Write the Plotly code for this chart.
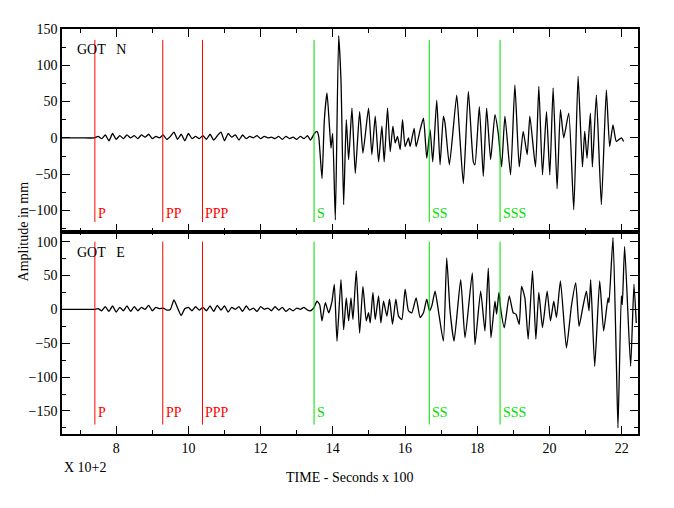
import plotly.graph_objects as go
from plotly.subplots import make_subplots

# phase picks (x 100 s)
phase_names = ['P', 'PP', 'PPP', 'S', 'SS', 'SSS']
phase_times = [7.41, 9.29, 10.39, 13.48, 16.67, 18.63]
phase_colors = ['red', 'red', 'red', '#00dd00', '#00dd00', '#00dd00']

# pre-signal noise, shared time grid
noise_t = [6.5, 7.0, 7.4, 7.5, 7.6, 7.7, 7.8, 7.9, 8.0, 8.1, 8.2, 8.3, 8.4, 8.5, 8.6, 8.7, 8.8, 8.9,
           9.0, 9.1, 9.2, 9.3, 9.4, 9.5, 9.6, 9.7, 9.8, 9.9, 10.0, 10.1, 10.2, 10.3, 10.4, 10.5,
           10.6, 10.7, 10.8, 10.9, 11.0, 11.1, 11.2, 11.3, 11.4, 11.5, 11.6, 11.7, 11.8, 11.9,
           12.0, 12.1, 12.2, 12.3, 12.4, 12.5, 12.6, 12.7, 12.8, 12.9, 13.0, 13.1, 13.2, 13.3]
n_noise = [0, 0, 0, 2, -1, 4, -4, 6, -2, 3, -1, 4, 0, 3, -1, 4, 1, 5,
           -1, 2, 0, 4, -2, 2, 8, -2, 5, -4, 6, -1, 2, -1, 3, -2,
           5, -3, 3, 8, -4, 6, 1, 4, -3, 4, -1, 2, 0, 3,
           -1, 2, 0, 1, -1, 2, -2, 2, -1, 1, -2, 2, -1, 3]
e_noise = [0, 0, 0, 1, -2, 4, -3, 5, -4, 3, -2, 5, -3, 4, -2, 3, 0, 6,
           -2, 3, 1, 2, -1, 0, 14, 2, -9, 1, 3, -2, 4, -1, 3, -2,
           5, -3, 6, -1, 5, -4, 3, 0, 4, -3, 5, -1, 2, -3,
           4, 0, 2, -2, 4, -1, 3, -3, 1, -2, 2, 0, 3, -1]

# GOT N after S
n_t = [13.378, 13.488, 13.562, 13.608, 13.700, 13.765, 13.838, 13.912, 13.949, 13.995,
       14.069, 14.161, 14.225, 14.299, 14.372, 14.437, 14.529, 14.621, 14.741, 14.833,
       14.989, 15.081, 15.174, 15.266, 15.358, 15.422, 15.514, 15.588, 15.662, 15.726,
       15.790, 15.864, 15.929, 16.002, 16.094, 16.140, 16.251, 16.306, 16.417, 16.509,
       16.601, 16.693, 16.767, 16.877, 16.969, 17.061, 17.107, 17.227, 17.430, 17.503,
       17.614, 17.752, 17.890, 17.936, 18.056, 18.166, 18.258, 18.369, 18.489, 18.581,
       18.673, 18.765, 18.921, 19.041, 19.161, 19.271, 19.382, 19.455, 19.612, 19.704,
       19.805, 19.916, 20.008, 20.100, 20.210, 20.302, 20.394, 20.533, 20.671, 20.791,
       20.911, 20.975, 21.039, 21.131, 21.187, 21.297, 21.435, 21.573, 21.665, 21.757,
       21.850, 21.988, 22.052]
n_amp = [-3, 6, 9, 2, -56, 25, 62, 11, -14, 6,
         -113, 141, 80, -92, 25, -30, 41, -49, 36, -21,
         41, -23, 30, -33, 16, -33, 41, -19, 16, -7,
         2, -16, 25, -12, 0, -12, 13, -12, 11, 27,
         -28, 11, -33, 52, -37, 30, 20, -37, 59, 11,
         -63, 64, -33, -37, 43, -53, 41, -30, 32, 6,
         -40, 30, -51, 73, -40, 9, -23, 30, -40, 71,
         -51, 36, -51, 69, -70, 39, 0, 34, -99, 85,
         -40, 9, -28, 34, -40, 59, -92, 66, -12, 18,
         -5, 0, -5]

# GOT E after S
e_t = [13.378, 13.470, 13.562, 13.636, 13.700, 13.792, 13.884, 13.977, 14.041, 14.115,
       14.225, 14.299, 14.372, 14.437, 14.502, 14.557, 14.649, 14.741, 14.833, 14.925,
       14.989, 15.035, 15.109, 15.174, 15.266, 15.330, 15.404, 15.496, 15.570, 15.652,
       15.745, 15.818, 15.910, 16.002, 16.094, 16.186, 16.306, 16.417, 16.509, 16.601,
       16.675, 16.739, 16.831, 16.923, 17.061, 17.153, 17.245, 17.356, 17.540, 17.660,
       17.862, 17.936, 18.093, 18.212, 18.304, 18.378, 18.489, 18.535, 18.599, 18.655,
       18.747, 18.885, 18.995, 19.069, 19.161, 19.225, 19.317, 19.409, 19.529, 19.621,
       19.704, 19.805, 19.934, 20.026, 20.118, 20.192, 20.302, 20.468, 20.606, 20.726,
       20.818, 20.929, 21.021, 21.094, 21.140, 21.251, 21.389, 21.499, 21.620, 21.647,
       21.758, 21.850, 21.896, 21.987, 22.015, 22.080, 22.246, 22.338, 22.402]
e_amp = [-2, 2, 12, 7, -17, 10, -5, 12, 37, -47,
         44, -30, 17, -17, 17, -15, 57, -35, 34, -17,
         -5, -20, 25, -15, 20, -20, 12, -10, 15, -22,
         15, -10, -15, 30, -2, -5, 17, -12, -5, 15,
         -2, 5, 27, -2, -47, 76, -2, -47, 44, -42,
         54, -52, 27, -32, 61, -42, 12, -7, 25, -2,
         -27, 20, -5, -7, -22, 34, 17, -44, 57, -44,
         25, -27, 27, -17, 12, -12, 42, -57, 5, 39,
         -25, 5, 27, -2, 44, -84, 42, -32, 17, 10,
         106, -76, -175, 20, 7, 93, -84, 37, -20]

fig = make_subplots(rows=2, cols=1, shared_xaxes=True, vertical_spacing=0.0)
line = dict(color='black', width=1.3, shape='spline', smoothing=0.5)
fig.add_trace(go.Scatter(x=noise_t + n_t, y=n_noise + n_amp, mode='lines', line=line), row=1, col=1)
fig.add_trace(go.Scatter(x=noise_t + e_t, y=e_noise + e_amp, mode='lines', line=line), row=2, col=1)

font = dict(family='Liberation Serif', size=14, color='black')
spans = {1: (-116, 135, -104), 2: (-170, 100, -152)}
for r, (lo, hi, ly) in spans.items():
    xr = 'x' if r == 1 else 'x2'
    yr = 'y' if r == 1 else 'y2'
    for name, t, c in zip(phase_names, phase_times, phase_colors):
        fig.add_shape(type='line', x0=t, x1=t, y0=lo, y1=hi, xref=xr, yref=yr,
                      line=dict(color=c, width=1))
        fig.add_annotation(x=t, y=ly, xref=xr, yref=yr, text=name, showarrow=False,
                           xanchor='left', xshift=1, font=dict(family='Liberation Serif', size=14, color=c))
fig.add_annotation(x=6.85, y=122, xref='x', yref='y', text='GOT&nbsp;&nbsp;&nbsp;N', showarrow=False,
                   xanchor='left', font=font)
fig.add_annotation(x=6.85, y=84, xref='x2', yref='y2', text='GOT&nbsp;&nbsp;&nbsp;E', showarrow=False,
                   xanchor='left', font=font)

ax = dict(showline=True, linecolor='black', linewidth=1.5, mirror='allticks', ticks='inside',
          ticklen=8, tickcolor='black', showgrid=False, zeroline=False, tickfont=font,
          automargin=False, minor=dict(ticks='inside', ticklen=4, tickcolor='black'))
fig.update_xaxes(**ax, range=[6.5, 22.45], dtick=2, minor_dtick=1)
fig.update_xaxes(showticklabels=False, row=1, col=1)
fig.update_yaxes(**ax)
fig.update_yaxes(range=[-129, 150], dtick=50, minor_dtick=25, row=1, col=1)
fig.update_yaxes(range=[-184, 115], dtick=50, minor_dtick=25, row=2, col=1)

fig.add_annotation(x=0, y=-0.06, xref='paper', yref='paper', text='X 10+2', showarrow=False,
                   xanchor='left', yanchor='top', font=font)
fig.add_annotation(x=0.5, y=-0.085, xref='paper', yref='paper', text='TIME - Seconds x 100',
                   showarrow=False, yanchor='top', font=font)
fig.add_annotation(x=-0.066, y=0.5, xref='paper', yref='paper', text='Amplitude in mm',
                   showarrow=False, textangle=-90, xanchor='center', yanchor='middle', font=font)

# the page body adds an 8px offset, so margins are shifted to compensate
fig.update_layout(width=674, height=508, margin=dict(l=54, r=44, t=21, b=82),
                  plot_bgcolor='white', paper_bgcolor='white', showlegend=False)
fig.write_html('out.html')
